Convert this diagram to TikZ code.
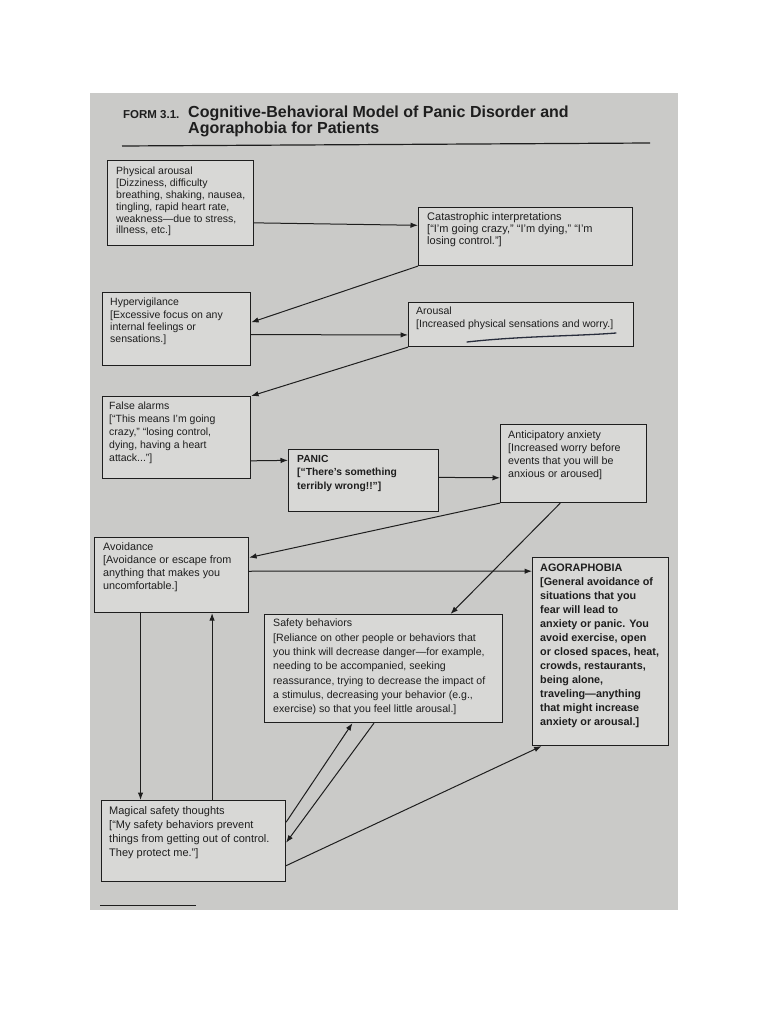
\documentclass[tikz,border=0pt]{standalone}
\usepackage{fontspec}
\setmainfont{Liberation Sans}
\usetikzlibrary{arrows.meta,calc}
\definecolor{pagegray}{RGB}{202,202,200}
\definecolor{boxgray}{RGB}{216,216,214}
\definecolor{ink}{RGB}{30,30,30}
\definecolor{pen}{RGB}{40,45,60}
\begin{document}
\begin{tikzpicture}[x=1pt,y=-1pt,
  box/.style={draw=ink,line width=1.1pt,fill=boxgray,inner sep=0pt,anchor=north west},
  txt/.style={inner sep=0pt,anchor=north west,align=left,text=ink},
  conn/.style={draw=ink,line width=1pt,-{Latex[length=7.5pt,width=5.5pt]}}]
\useasboundingbox (0,0) rectangle (768,1024);
\fill[white] (0,0) rectangle (768,1024);
\fill[pagegray] (90,93) rectangle (678,910);
% title
\node[txt,anchor=base west,font=\fontsize{11.5}{13}\selectfont\bfseries] (t0) at (123,119) {FORM 3.1.};
\node[txt,anchor=base west,font=\fontsize{16}{17}\selectfont\bfseries] (t1) at (188,118) {Cognitive-Behavioral Model of Panic Disorder and};
\node[txt,anchor=base west,font=\fontsize{16}{17}\selectfont\bfseries] (t2) at (188,134) {Agoraphobia for Patients};
\draw[ink,line width=1.2pt] (122,146) -- (650,143);
% boxes
\node[box,minimum width=146,minimum height=85] (pa) at (107,160) {};
\node[txt,font=\fontsize{10.5}{11.8}\selectfont] (pat) at ($(pa.north west)+(9,7)$) {Physical arousal\\{[}Dizziness, difficulty\\breathing, shaking, nausea,\\tingling, rapid heart rate,\\weakness—due to stress,\\illness, etc.]};
\node[box,minimum width=214,minimum height=58] (ci) at (418,207) {};
\node[txt,font=\fontsize{11}{12}\selectfont] (cit) at ($(ci.north west)+(9,5)$) {Catastrophic interpretations\\{[}“I’m going crazy,” “I’m dying,” “I’m\\losing control.”]};
\node[box,minimum width=148,minimum height=73] (hy) at (102,292) {};
\node[txt,font=\fontsize{10.5}{12.3}\selectfont] (hyt) at ($(hy.north west)+(8,6)$) {Hypervigilance\\{[}Excessive focus on any\\internal feelings or\\sensations.]};
\node[box,minimum width=225,minimum height=44] (ar) at (408,302) {};
\node[txt,font=\fontsize{10.5}{13}\selectfont] (art) at ($(ar.north west)+(8,5)$) {Arousal\\{[}Increased physical sensations and worry.]};
\node[box,minimum width=148,minimum height=82] (fa) at (102,396) {};
\node[txt,font=\fontsize{10.5}{13}\selectfont] (fat) at ($(fa.north west)+(7,6)$) {False alarms\\{[}“This means I’m going\\crazy,” “losing control,\\dying, having a heart\\attack...”]};
\node[box,minimum width=150,minimum height=62] (pn) at (288,449) {};
\node[txt,font=\fontsize{10.3}{13.5}\selectfont\bfseries] (pnt) at ($(pn.north west)+(9,6)$) {PANIC\\{[}“There’s something\\terribly wrong!!”]};
\node[box,minimum width=146,minimum height=78] (an) at (500,424) {};
\node[txt,font=\fontsize{10.7}{13}\selectfont] (ant) at ($(an.north west)+(8,7)$) {Anticipatory anxiety\\{[}Increased worry before\\events that you will be\\anxious or aroused]};
\node[box,minimum width=154,minimum height=75] (av) at (94,537) {};
\node[txt,font=\fontsize{10.8}{13.3}\selectfont] (avt) at ($(av.north west)+(9,5)$) {Avoidance\\{[}Avoidance or escape from\\anything that makes you\\uncomfortable.]};
\node[box,minimum width=238,minimum height=108] (sb) at (264,614) {};
\node[txt,font=\fontsize{10.6}{14.3}\selectfont] (sbt) at ($(sb.north west)+(9,5)$) {Safety behaviors\\{[}Reliance on other people or behaviors that\\you think will decrease danger—for example,\\needing to be accompanied, seeking\\reassurance, trying to decrease the impact of\\a stimulus, decreasing your behavior (e.g.,\\exercise) so that you feel little arousal.]};
\node[box,minimum width=136,minimum height=188] (ag) at (532,557) {};
\node[txt,font=\fontsize{10.8}{14}\selectfont\bfseries] (agt) at ($(ag.north west)+(8,7)$) {AGORAPHOBIA\\{[}General avoidance of\\situations that you\\fear will lead to\\anxiety or panic. You\\avoid exercise, open\\or closed spaces, heat,\\crowds, restaurants,\\being alone,\\traveling—anything\\that might increase\\anxiety or arousal.]};
\node[box,minimum width=184,minimum height=81] (mg) at (101,800) {};
\node[txt,font=\fontsize{11}{14}\selectfont] (mgt) at ($(mg.north west)+(8,6)$) {Magical safety thoughts\\{[}“My safety behaviors prevent\\things from getting out of control.\\They protect me.”]};
% connectors
\draw[conn] ($(pa.north east)!0.73!(pa.south east)$) -- ($(ci.north west)!0.31!(ci.south west)$);
\draw[conn] (ci.south west) -- ($(hy.north east)!0.41!(hy.south east)$);
\draw[conn] ($(hy.north east)!0.575!(hy.south east)$) -- ($(ar.north west)!0.73!(ar.south west)$);
\draw[conn] (ar.south west) -- (fa.north east);
\draw[conn] ($(fa.north east)!0.78!(fa.south east)$) -- ($(pn.north west)!0.18!(pn.south west)$);
\draw[conn] ($(pn.north east)!0.45!(pn.south east)$) -- ($(an.north west)!0.68!(an.south west)$);
\draw[conn] (an.south west) -- ($(av.north east)!0.27!(av.south east)$);
\draw[conn] ($(an.south west)!0.41!(an.south east)$) -- ($(sb.north west)!0.78!(sb.north east)$);
\draw[conn] ($(av.north east)!0.45!(av.south east)$) -- ($(ag.north west)!0.075!(ag.south west)$);
\draw[conn] ($(av.south west)!0.3!(av.south east)$) coordinate (v1) -- (v1 |- mg.north);
\draw[conn] ($(mg.north west)!0.6!(mg.north east)$) coordinate (v2) -- (v2 |- av.south);
\draw[conn] ($(mg.north east)!0.27!(mg.south east)$) -- ($(sb.south west)!0.37!(sb.south east)$);
\draw[conn] ($(sb.south west)!0.46!(sb.south east)$) -- ($(mg.north east)!0.52!(mg.south east)$);
\draw[conn] ($(mg.north east)!0.8!(mg.south east)$) -- ($(ag.south west)!0.07!(ag.south east)$);
% pen mark under Arousal text
\draw[pen,line width=1.3pt,line cap=round] (467,342) .. controls (520,336) and (580,336) .. (616,333);
% footnote rule
\draw[ink,line width=0.8pt] (100,905) -- (196,905);
\end{tikzpicture}
\end{document}
